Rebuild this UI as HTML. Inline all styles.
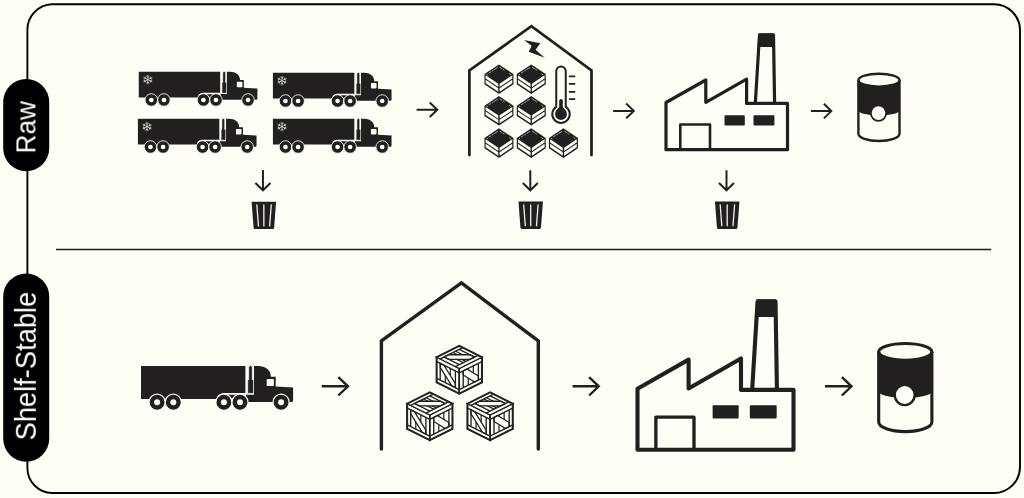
<!DOCTYPE html>
<html><head><meta charset="utf-8">
<style>
html,body{margin:0;padding:0;background:#FEFEF6;width:1024px;height:498px;overflow:hidden}
svg{display:block}
</style></head>
<body>
<svg width="1024" height="498" viewBox="0 0 1024 498">
<defs>
  <!-- truck, local coords: origin at stack top-left area -->
  <g id="truck">
    <path d="M0,1.1 H104.4 V27.9 H82 A7 6.1 0 0 0 75.8 34 H0 Z" fill="#231F20"/>
    <path d="M86.5,29.8 H95.5 L91,34 Z" fill="#231F20"/>
    <path d="M107.7,14.7 V1.8 Q109.5,-0.6 111.3,1.8 V14.7 H112.6 V28.4 H106.7 V14.7 Z" fill="#231F20" stroke="#FEFEF6" stroke-width="0.7"/>
    <path d="M113,1.1 H117.2 C124,1.1 129.9,5 129.9,11.7 H134.7 V21.5 L152.1,22.5 V35.3 Q152.1,36.9 150.7,36.9 H105 V29.7 H113 Z" fill="#231F20"/>
    <rect x="125.7" y="14" width="7.2" height="7" rx="1" fill="#FEFEF6"/>
    <g fill="#231F20" stroke="#FEFEF6" stroke-width="1.1">
      <circle cx="16.1" cy="37.2" r="8.05"/>
      <circle cx="32.3" cy="37.2" r="8.05"/>
      <circle cx="82.9" cy="37.2" r="8.05"/>
      <circle cx="99" cy="37.2" r="8.05"/>
      <circle cx="140.1" cy="37.2" r="8.05"/>
    </g>
    <g fill="#FEFEF6">
      <circle cx="16.1" cy="37.2" r="3.0"/>
      <circle cx="32.3" cy="37.2" r="3.0"/>
      <circle cx="82.9" cy="37.2" r="3.0"/>
      <circle cx="99" cy="37.2" r="3.0"/>
      <circle cx="140.1" cy="37.2" r="3.0"/>
    </g>
  </g>
  <g id="flake" stroke="#D8D6D0" stroke-width="1.1" fill="none" stroke-linecap="round">
    <path d="M0,-6 V6 M-5.2,-3 L5.2,3 M-5.2,3 L5.2,-3"/>
    <path d="M-1.6,-4.8 L0,-3.4 L1.6,-4.8 M-1.6,4.8 L0,3.4 L1.6,4.8"/>
    <path d="M-4.9,-1 L-3,-1.7 L-3.3,-3.6 M4.9,1 L3,1.7 L3.3,3.6 M-4.9,1 L-3,1.7 L-3.3,3.6 M4.9,-1 L3,-1.7 L3.3,-3.6"/>
  </g>
  <g id="smalltruck">
    <use href="#truck"/>
    <use href="#flake" transform="translate(11.7,11.1) scale(1,0.9)"/>
  </g>

  <g id="box">
    <path d="M0,-0.3 L-14.5,9.4 V19.6 L0,29.3 L14.5,19.6 V9.4 Z" fill="#231F20"/>
    <g fill="#FEFEF6">
      <path d="M-13.3,10.6 L-0.7,19.03 V22.33 L-13.3,13.9 Z"/>
      <path d="M-13.3,15.1 L-0.7,23.53 V27.03 L-13.3,18.6 Z"/>
      <path d="M13.3,10.6 L0.7,19.03 V22.33 L13.3,13.9 Z"/>
      <path d="M13.3,15.1 L0.7,23.53 V27.03 L13.3,18.6 Z"/>
    </g>
    <path d="M-10.2,8.5 L-1,2.6 M0.8,2.5 L6.2,6" fill="none" stroke="#D6D4CC" stroke-width="0.75" stroke-dasharray="3 0.8 2 0.8 4"/>
    <path d="M-12.4,9.2 L-11.2,10.6 M10.2,8.8 L11.9,10.4" fill="none" stroke="#D6D4CC" stroke-width="0.75"/>
  </g>
  <g id="face">
    <rect x="0" y="0" width="100" height="100" fill="#FEFEF6" stroke="#231F20" stroke-width="1.35" vector-effect="non-scaling-stroke"/>
    <path d="M39,17 V83 M61,17 V83" fill="none" stroke="#231F20" stroke-width="1.2" vector-effect="non-scaling-stroke"/>
    <path d="M17,17 H33 L83,67 V83 H67 L17,33 Z" fill="#FEFEF6" stroke="#231F20" stroke-width="1.3" vector-effect="non-scaling-stroke"/>
    <path d="M0,17 H100 M0,83 H100 M17,17 V83 M83,17 V83" fill="none" stroke="#231F20" stroke-width="1.35" vector-effect="non-scaling-stroke"/>
  </g>
  <g id="facetop">
    <rect x="0" y="0" width="100" height="100" fill="#FEFEF6" stroke="#231F20" stroke-width="1.35" vector-effect="non-scaling-stroke"/>
    <path d="M34,17 V83 M45,17 V83 M56,17 V83 M67,17 V83" fill="none" stroke="#231F20" stroke-width="1.2" vector-effect="non-scaling-stroke"/>
    <path d="M17,17 H37 L83,63 V83 H63 L17,37 Z" fill="#FEFEF6" stroke="#231F20" stroke-width="1.35" vector-effect="non-scaling-stroke"/>
    <path d="M0,17 H100 M0,83 H100 M17,17 V83 M83,17 V83" fill="none" stroke="#231F20" stroke-width="1.35" vector-effect="non-scaling-stroke"/>
  </g>
  <g id="crate">
    <use href="#face" transform="matrix(0.23,0.115,0,0.255,-23,11.5)"/>
    <use href="#face" transform="matrix(0.23,-0.115,0,0.255,0,23)"/>
    <use href="#facetop" transform="matrix(0.23,-0.115,0.23,0.115,-23,11.5)"/>
    <path d="M0,0.6 L-22.4,11.8 V36.7 L0,48 L22.4,36.7 V11.8 Z M0,23 V48" fill="none" stroke="#231F20" stroke-width="1.5" stroke-linejoin="round"/>
  </g>
  <g id="factory">
    <path d="M0,0 V-47.2 L39.8,-69.7 V-47.4 L80.6,-70.6 V-46.3 H121.5 V0 Z" fill="none" stroke="#231F20" stroke-width="3.2" stroke-linejoin="round"/>
    <path d="M89.3,-46.3 L93.5,-114.7 H107.5 L108.6,-46.3" fill="none" stroke="#231F20" stroke-width="3.2" stroke-linejoin="round"/>
    <path d="M92.4,-116 Q92.4,-116.4 93,-116.4 H107.6 Q108.1,-116.4 108.1,-116 L108.4,-102.8 H91.6 Z" fill="#231F20"/>
    <rect x="58.5" y="-34.4" width="20.3" height="10.3" rx="0.8" fill="#231F20"/>
    <rect x="87.5" y="-34.4" width="20.9" height="10.3" rx="0.8" fill="#231F20"/>
    <path d="M14.3,0 V-25.2 H44 V0" fill="none" stroke="#231F20" stroke-width="2.6" stroke-linejoin="round"/>
  </g>
  <g id="can">
    <path d="M0,0 A20.55,6.4 0 0 0 41.1,0 V30.3 A20.55,4.8 0 0 1 0,30.3 Z" fill="#231F20"/>
    <path d="M0,0 V53.5 A20.55,7.3 0 0 0 41.1,53.5 V0" fill="none" stroke="#231F20" stroke-width="2.4"/>
    <ellipse cx="20.55" cy="0" rx="20.55" ry="6.4" fill="none" stroke="#231F20" stroke-width="2.4"/>
    <circle cx="20.1" cy="32.9" r="7.7" fill="#FEFEF6" stroke="#231F20" stroke-width="1.8"/>
  </g>
  <g id="trash">
    <path d="M-12.25,0 H12.25 L10.25,26.2 Q10.1,27.3 9,27.3 H-9 Q-10.1,27.3 -10.25,26.2 Z" fill="#231F20"/>
    <path d="M-7,3.2 L-5.4,24.1 M0,3.2 V24.1 M7.4,3.2 L5.8,24.1" stroke="#F4F2EA" stroke-width="1.3" stroke-linecap="round"/>
  </g>
</defs>

<!-- outer frame -->
<path d="M52,4.2 H994 A26,26 0 0 1 1020,30 V467 A26,26 0 0 1 994,493 H52 A25,25 0 0 1 27.4,468 V30 A25.6,25.6 0 0 1 52,4.2 Z" fill="none" stroke="#000" stroke-width="1.9"/>
<line x1="56" y1="249.5" x2="991.2" y2="249.5" stroke="#1E1C1D" stroke-width="1.5"/>

<!-- pills -->
<rect x="3.2" y="79" width="46" height="92.3" rx="23" fill="#000"/>
<text style="filter:blur(0px)" transform="translate(35.45,127.2) rotate(-90) scale(0.935,1)" text-anchor="middle" font-family="Liberation Sans" font-size="28" fill="#FEFEF6">Raw</text>
<rect x="3.2" y="273.4" width="46" height="188.4" rx="23" fill="#000"/>
<text style="filter:blur(0px)" transform="translate(35.85,366.15) rotate(-90) scale(0.925,1)" text-anchor="middle" font-family="Liberation Sans" font-size="29.5" fill="#FEFEF6">Shelf-Stable</text>

<!-- small trucks -->
<use href="#smalltruck" transform="translate(138.75,70.95) scale(0.78)"/>
<use href="#smalltruck" transform="translate(272.9,72.0) scale(0.78)"/>
<use href="#smalltruck" transform="translate(137.9,118.0) scale(0.78)"/>
<use href="#smalltruck" transform="translate(272.9,118.0) scale(0.78)"/>
<!-- big truck -->
<use href="#truck" transform="translate(141,365)"/>


<!-- row1 arrows -->
<g fill="none" stroke="#231F20" stroke-width="2" stroke-linejoin="miter">
  <path d="M416.6,109.7 H437.3 M429.7,102.6 L437.3,109.7 L429.7,117"/>
  <path d="M613.1,110.9 H633.8 M626.1,103.5 L633.8,110.9 L626.1,118.2"/>
  <path d="M810.9,111.1 H831.3 M823.9,103.8 L831.3,111.1 L823.9,118.4"/>
  <path d="M262.95,170.1 V190 M255.4,183 L262.95,190.3 L270.5,183"/>
  <path d="M530.3,170.2 V190 M522.8,183 L530.3,190.3 L537.8,183"/>
  <path d="M726.5,170.2 V190 M719,183 L726.5,190.3 L734,183"/>
</g>
<use href="#trash" transform="translate(263.85,201.8)"/>
<use href="#trash" transform="translate(530.7,201.6)"/>
<use href="#trash" transform="translate(727.2,201.6)"/>

<!-- cold warehouse -->
<path d="M469.4,155 V70.5 L531.4,26.2 L591.5,70.5 V155" fill="none" stroke="#231F20" stroke-width="2.75" stroke-linecap="round"/>
<path d="M523.9,39.9 L540.3,43.3 L535.6,49.7 L544.7,57.8 L528.7,51.7 L531.6,45.7 Z" fill="#231F20"/>
<use href="#box" transform="translate(498.95,64.70)"/>
<use href="#box" transform="translate(531.25,64.70)"/>
<use href="#box" transform="translate(498.95,96.30)"/>
<use href="#box" transform="translate(531.25,96.30)"/>
<use href="#box" transform="translate(498.95,128.60)"/>
<use href="#box" transform="translate(531.25,128.60)"/>
<use href="#box" transform="translate(563.45,128.60)"/>
<!-- thermometer -->
<path d="M556.25,106.85 V71.2 A4.75,4.75 0 0 1 565.75,71.2 V106.85 A8.75,8.75 0 1 1 556.25,106.85 Z" fill="none" stroke="#231F20" stroke-width="2"/>
<path d="M559.2,100.8 A1.8,1.8 0 0 1 562.8,100.8 V106.5 C562.8,107.8 566.9,110 566.9,114.2 A5.9,5.9 0 1 1 555.1,114.2 C555.1,110 559.2,107.8 559.2,106.5 Z" fill="#231F20"/>
<path d="M568.9,76.3 H575.3 M568.9,83.9 H575.3 M568.9,91.8 H575.3 M568.9,99.2 H575.3" stroke="#231F20" stroke-width="1.8"/>

<!-- factory 1 & can 1 -->
<use href="#factory" transform="translate(666,149.7)"/>
<use href="#can" transform="translate(858.4,80.2)"/>

<!-- row 2 arrows -->
<g fill="none" stroke="#231F20" stroke-width="2.4" stroke-linejoin="miter">
  <path d="M321.8,386.3 H348 M338.3,377.1 L348,386.3 L338.3,395.5"/>
  <path d="M572.6,386.3 H598.7 M589.1,377.1 L598.7,386.3 L589.1,395.5"/>
  <path d="M825,386.3 H851.5 M841.9,377.1 L851.5,386.3 L841.9,395.5"/>
</g>
<!-- shelf warehouse -->
<path d="M381.4,449 V340.9 L461.4,282.8 L538.3,340.9 V449" fill="none" stroke="#231F20" stroke-width="3.4" stroke-linecap="round"/>
<use href="#crate" transform="translate(459.3,345.5)"/>
<use href="#crate" transform="translate(429.8,392)"/>
<use href="#crate" transform="translate(490.1,392)"/>
<!-- factory 2 & can 2 -->
<use href="#factory" transform="translate(637.5,449.7) scale(1.284,1.292)"/>
<use href="#can" transform="translate(878.7,351.85) scale(1.294,1.312)"/>
</svg>
</body></html>
